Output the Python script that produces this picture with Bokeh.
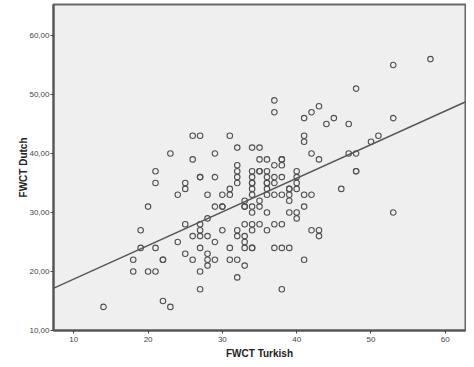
from bokeh.plotting import figure
from bokeh.models import Slope, FixedTicker, Range1d
from bokeh.embed import file_html
from bokeh.resources import INLINE

# FWCT Turkish (x) vs FWCT Dutch (y)
turkish = [14, 18, 18, 19, 19, 20, 20, 21, 21, 21, 21, 22, 22, 22, 23, 23, 24, 24,
           25, 25, 25, 25, 26, 26, 26, 26,
           27, 27, 27, 27, 27, 27, 27, 27, 27,
           28, 28, 28, 28, 28, 28,
           29, 29, 29, 29, 29,
           30, 30, 30, 30,
           31, 31, 31, 31, 31,
           32, 32, 32, 32, 32, 32, 32, 32, 32,
           33, 33, 33, 33, 33, 33, 33, 33,
           34, 34, 34, 34, 34, 34, 34, 34, 34, 34, 34, 34, 34,
           35, 35, 35, 35, 35, 35, 35,
           36, 36, 36, 36, 36, 36, 36, 36, 36,
           37, 37, 37, 37, 37, 37, 37, 37,
           38, 38, 38, 38, 38, 38, 38, 38,
           39, 39, 39, 39, 39, 39,
           40, 40, 40, 40, 40, 40,
           41, 41, 41, 41, 41, 41,
           42, 42, 42, 42,
           43, 43, 43, 43,
           44, 45, 46, 47, 47,
           48, 48, 48, 48,
           50, 51, 53, 53, 53, 58]
dutch = [14, 22, 20, 27, 24, 31, 20, 37, 35, 24, 20, 22, 22, 15, 40, 14, 33, 25,
         35, 34, 28, 23, 43, 39, 26, 22,
         43, 36, 36, 28, 27, 26, 24, 20, 17,
         33, 29, 26, 23, 22, 21,
         40, 36, 31, 25, 22,
         33, 31, 31, 27,
         43, 34, 33, 24, 22,
         41, 38, 37, 36, 35, 27, 26, 22, 19,
         32, 31, 31, 28, 26, 25, 24, 21,
         41, 37, 36, 35, 35, 34, 33, 31, 30, 28, 27, 24, 24,
         41, 39, 37, 37, 32, 31, 28,
         39, 37, 36, 35, 35, 34, 33, 30, 27,
         49, 47, 38, 36, 35, 33, 28, 24,
         39, 39, 38, 36, 33, 28, 24, 17,
         34, 34, 33, 32, 30, 24,
         37, 36, 35, 34, 30, 29,
         46, 43, 42, 33, 31, 22,
         47, 40, 33, 27,
         48, 39, 27, 26,
         45, 46, 34, 45, 40,
         51, 40, 37, 37,
         42, 43, 55, 46, 30, 56]

# fit line
fit_intercept = 13.0
fit_slope = 0.57

x_ticks = [10, 20, 30, 40, 50, 60]
x_tick_labels = ["10", "20", "30", "40", "50", "60"]
y_ticks = [10, 20, 30, 40, 50, 60]
y_tick_labels = ["10,00", "20,00", "30,00", "40,00", "50,00", "60,00"]

FONT = "Liberation Sans"

p = figure(width=458, height=358, output_backend="svg", toolbar_location=None,
           x_range=Range1d(7.27, 62.72), y_range=Range1d(10, 65.25),
           min_border_left=45, min_border_right=1, min_border_top=1, min_border_bottom=29,
           margin=(3, 0, 0, 8))

p.background_fill_color = "#efefef"
p.border_fill_color = "white"
p.outline_line_color = "#666666"
p.outline_line_width = 2
p.xgrid.visible = False
p.ygrid.visible = False

for ax in (p.xaxis[0], p.yaxis[0]):
    ax.axis_line_color = "#555555"
    ax.axis_line_width = 2
    ax.major_tick_line_color = "#444444"
    ax.major_tick_in = 0
    ax.major_tick_out = 3
    ax.minor_tick_line_color = None
    ax.major_label_text_font = FONT
    ax.major_label_text_font_size = "8px"
    ax.major_label_text_color = "#444444"
    ax.axis_label_text_font = FONT
    ax.axis_label_text_font_size = "10px"
    ax.axis_label_text_font_style = "bold"
    ax.axis_label_text_color = "#222222"

p.xaxis.ticker = FixedTicker(ticks=x_ticks)
p.xaxis.major_label_overrides = dict(zip(x_ticks, x_tick_labels))
p.yaxis.ticker = FixedTicker(ticks=y_ticks)
p.yaxis.major_label_overrides = dict(zip(y_ticks, y_tick_labels))
p.xaxis.axis_label = "FWCT Turkish"
p.yaxis.axis_label = "FWCT Dutch"
p.xaxis.major_label_standoff = 3
p.xaxis.axis_label_standoff = 3
p.yaxis.major_label_standoff = 1
p.yaxis.axis_label_standoff = -3

p.scatter(turkish, dutch, marker="circle", size=5.5, fill_color=None,
          line_color="#505050", line_width=1.1)

p.add_layout(Slope(gradient=fit_slope, y_intercept=fit_intercept,
                   line_color="#555555", line_width=1.4))

open("out.html", "w").write(file_html(p, INLINE))
